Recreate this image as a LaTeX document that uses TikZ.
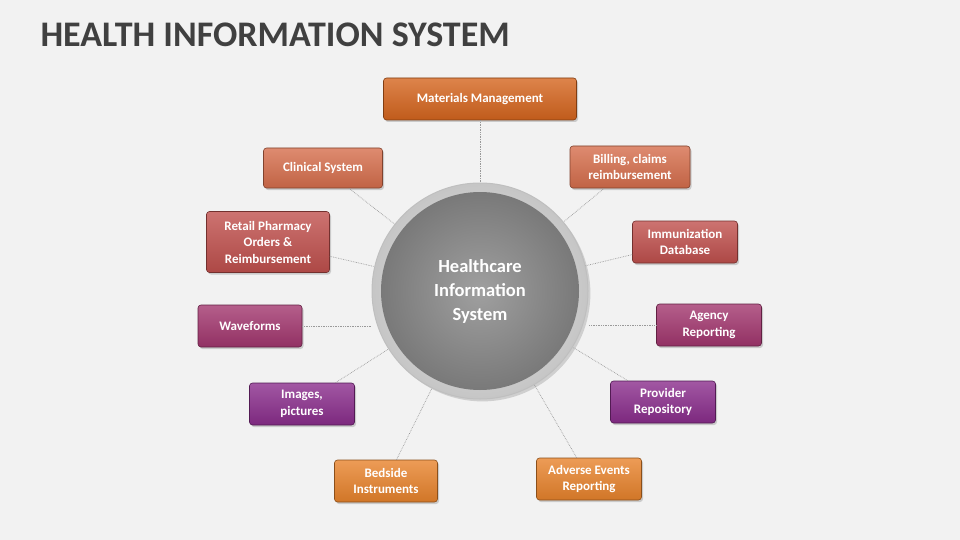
\documentclass[tikz,border=0pt]{standalone}
\usepackage{fontspec}
\setmainfont{Carlito}
\usetikzlibrary{shadows}
\definecolor{bg}{HTML}{F2F2F2}
\definecolor{cOr}{HTML}{D5651E}
\definecolor{cCo}{HTML}{D66E4C}
\definecolor{cRe}{HTML}{C0504D}
\definecolor{cMa}{HTML}{A2366E}
\definecolor{cPu}{HTML}{8A2D8C}
\definecolor{cOl}{HTML}{E8832C}
\tikzset{
  bx/.style={draw=#1!60!black, line width=0.6pt, rounded corners=3pt, top color=#1!80!white, bottom color=#1!90!black,
    text=white, font=\fontsize{13}{16.5}\selectfont\bfseries, align=center, minimum height=42pt, inner sep=2pt,
    drop shadow={shadow xshift=1.5pt, shadow yshift=-2pt, opacity=0.35}},
  ln/.style={draw=gray!80, densely dotted, line width=0.7pt}
}
\begin{document}
\begin{tikzpicture}[x=1pt,y=-1pt]
\fill[bg] (0,0) rectangle (960,540);
\useasboundingbox (0,0) rectangle (960,540);
\node[anchor=west, font=\fontsize{36}{40}\selectfont\bfseries, text=black!75] (title) at (37,35) {HEALTH INFORMATION SYSTEM};
\node[circle, minimum size=216pt, draw=gray!50, line width=1pt, inner color=gray!20, outer color=gray!45, drop shadow={opacity=0.3}] (ring) at (480,291) {};
\node[circle, minimum size=198pt, inner color=gray!75, outer color=gray!95!black, align=center, text=white, font=\fontsize{18.5}{24}\selectfont\bfseries] (c) at (480,291) {Healthcare\\Information\\System};
\node[bx=cOr, minimum width=193pt] (m) at (480,99) {Materials Management};
\node[bx=cCo, minimum width=119pt, minimum height=40pt] (cl) at (323,168) {Clinical System};
\node[bx=cCo, minimum width=120pt] (bi) at (630,167) {Billing, claims\\reimbursement};
\node[bx=cRe, minimum width=123pt, minimum height=61pt] (rp) at (268,242) {Retail Pharmacy\\Orders \&\\Reimbursement};
\node[bx=cRe, minimum width=105pt] (im) at (685,242) {Immunization\\Database};
\node[bx=cMa, minimum width=104pt] (wf) at (250,326) {Waveforms};
\node[bx=cMa, minimum width=105pt] (ag) at (709,325) {Agency\\Reporting};
\node[bx=cPu, minimum width=105pt] (ip) at (302,404) {Images,\\pictures};
\node[bx=cPu, minimum width=105pt] (pr) at (663,402) {Provider\\Repository};
\node[bx=cOl, minimum width=103pt] (bs) at (386,481) {Bedside\\Instruments};
\node[bx=cOl, minimum width=105pt] (ae) at (589,479) {Adverse Events\\Reporting};
\draw[ln] (m) -- (ring);
\draw[ln] (cl) -- (ring);
\draw[ln] (bi) -- (ring);
\draw[ln] (rp) -- (ring);
\draw[ln] (im) -- (ring);
\draw[ln] (wf.east) -- (wf.east -| ring.west);
\draw[ln] (ag.west) -- (ag.west -| ring.east);
\draw[ln] (ip) -- (ring);
\draw[ln] (pr) -- (ring);
\draw[ln] (bs) -- (ring);
\draw[ln] (ae) -- (ring);
\end{tikzpicture}
\end{document}
